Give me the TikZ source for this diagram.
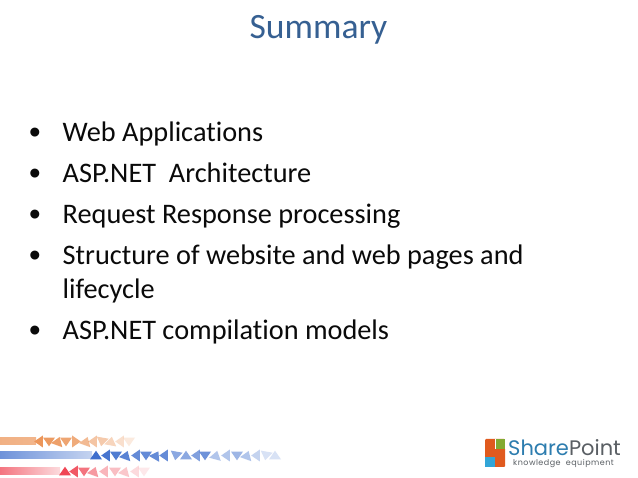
\documentclass[tikz,border=0pt]{standalone}
\usepackage{fontspec}
\setmainfont[Ligatures=CommonOff]{Carlito}
\newfontfamily\bulletfont{Liberation Sans}
\newfontfamily\logofont{Poppins}
\newfontfamily\tagfont[LetterSpace=6]{Poppins}
\usetikzlibrary{calc}
\definecolor{titleblue}{RGB}{54,96,146}
\definecolor{bodyblack}{RGB}{10,10,10}
\definecolor{orangeb}{RGB}{236,150,90}
\definecolor{blueb}{RGB}{62,110,205}
\definecolor{redb}{RGB}{240,70,85}
\definecolor{logoorange}{RGB}{224,90,30}
\definecolor{logogreen}{RGB}{130,170,50}
\definecolor{logoblue}{RGB}{50,165,215}
\definecolor{logotext}{RGB}{45,125,175}
\definecolor{logogray}{RGB}{90,95,100}
\tikzset{
  x=1pt,y=-1pt,
  titletext/.style={font=\fontsize{35.6}{38}\selectfont,text=titleblue,inner sep=0pt,anchor=base},
  bodytext/.style={font=\fontsize{28.3}{32}\selectfont,text=bodyblack,inner sep=0pt,anchor=base west},
  bullettext/.style={font=\bulletfont\fontsize{33}{36}\selectfont,text=bodyblack,inner sep=0pt,anchor=base west},
}
\newcommand{\tri}[5]{\fill[#1,opacity=#5,shift={(#2,#3)},rotate=#4] (-6,3.9) -- (6,3.9) -- (0,-4.8) -- cycle;}
\begin{document}
\begin{tikzpicture}
\useasboundingbox (0,0) rectangle (638,478);
\fill[white] (0,0) rectangle (638,478);
\node[titletext] (title) at (318.5,38.5) {Summary};
\foreach \n/\y/\t in {a/142/Web Applications,b/183/{ASP.NET\ \ Architecture},c/224/Request Response processing,d/265/Structure of website and web pages and,f/340/ASP.NET compilation models}{
  \node[bullettext] (bullet\n) at (29,\y+1.5) {•};
  \node[bodytext] (item\n) at (62.5,\y) {\t};
}
\node[bodytext] (iteme) at (62.5,299) {lifecycle};
% bands
\shade[left color=orangeb!75!white,right color=orangeb!70!white] (0,438) rectangle (36,445);
\shade[left color=blueb!75!white,right color=blueb!30!white] (0,452) rectangle (92,459);
\shade[left color=redb!75!white,right color=redb!20!white] (0,468) rectangle (60,475);
% orange triangles
\foreach \x/\r/\o in {39/90/1,49/180/.95,58/-20/.9,66/180/.85,76/-90/.8,86/-20/.65,93/90/.55,102/170/.5,111/-10/.4,120/90/.3,129/180/.2}{
  \tri{orangeb}{\x}{441.5}{\r}{\o}
}
% blue triangles
\foreach \x/\r/\o in {96/0/1,106/90/.95,116/180/.9,126/-20/.85,136/90/.8,146/180/.8,156/-30/.8,164/90/.8,176/170/.6,186/0/.6,196/90/.65,205/180/.75,216/-15/.4,226/90/.4,237/180/.5,247/-20/.4,256/90/.3,266/170/.2,275/0/.2}{
  \tri{blueb}{\x}{455.5}{\r}{\o}
}
% red triangles
\foreach \x/\r/\o in {65/0/1,74/90/.9,84/180/.75,94/-20/.55,104/90/.4,115/180/.35,125/-20/.3,135/90/.2,144/180/.12}{
  \tri{redb}{\x}{471.5}{\r}{\o}
}
% logo
\fill[logoorange,rounded corners=1pt] (485,439) rectangle (505,467);
\fill[white] (495,439) rectangle (505.5,449.5);
\fill[white] (484.5,457) rectangle (495,467.5);
\fill[logogreen] (495.5,439) rectangle (505,449);
\fill[logoblue] (485,457.5) rectangle (494.5,467);
\node[font=\logofont\fontsize{21}{23}\selectfont,text=logotext,inner sep=0pt,anchor=base west] (logoa) at (508,456) {Share\textcolor{logogray}{Point}};
\node[font=\tagfont\fontsize{8}{9}\selectfont,text=logogray,inner sep=0pt,anchor=base west] (logob) at (513,465.5) {knowledge\ \ equipment};
\end{tikzpicture}
\end{document}
